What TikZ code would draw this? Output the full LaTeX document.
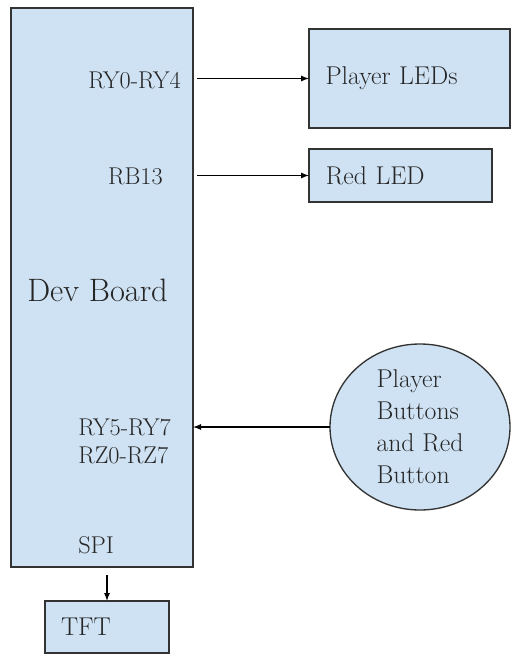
\documentclass[tikz,border=0pt]{standalone}
\usepackage{fontspec}
\usetikzlibrary{calc,shapes.geometric,arrows.meta}
\definecolor{boxfill}{HTML}{CFE2F3}
\definecolor{boxline}{HTML}{333333}
\definecolor{textgray}{HTML}{262626}

\begin{document}
\begin{tikzpicture}[
    x=0.75pt, y=-0.75pt,
    text=textgray,
    box/.style={draw=boxline, fill=boxfill, line width=1pt, outer sep=0pt,
        inner xsep=12pt, align=left, font=\fontsize{19.3}{24}\selectfont},
    pin/.style={font=\fontsize{18.2}{21}\selectfont, anchor=east, inner sep=0pt},
    link/.style={draw=black, line width=0.8pt, -{Latex[length=6pt,width=4.5pt]}}
]
    \useasboundingbox (0,0) rectangle (530,665);

    % --- Dev Board ---
    \node[box, minimum width=136.5pt, minimum height=419.25pt] (dev) at (102,287.5) {};
    \node[font=\fontsize{24.3}{28}\selectfont, anchor=west, inner sep=0pt] (devname) at (27,290) {Dev Board};

    % --- Pin Labels ---
    \node[pin] (ry04) at (181,80) {RY0-RY4};
    \node[pin] (rb13) at (163,176) {RB13};
    \node[pin, anchor=west, align=left] (ryrz) at (78,441) {RY5-RY7\\RZ0-RZ7};
    \node[pin, anchor=west] (spi) at (78,545) {SPI};

    % --- Peripherals ---
    \node[box, minimum width=150.75pt, minimum height=74.25pt, text width=126pt] (leds) at (409.5,78.5) {Player LEDs};
    \node[box, minimum width=137.25pt, minimum height=39.75pt, text width=112pt] (redled) at (400.5,175.5) {Red LED};
    \node[box, ellipse, inner sep=0pt, minimum width=135pt, minimum height=124.5pt] (btns) at (420,427) {Player\\Buttons\\and Red\\Button};
    \node[box, minimum width=93pt, minimum height=39pt, text width=69pt] (tft) at (107,627) {TFT};

    % --- Connections ---
    \coordinate (ry04out) at ($(dev.east |- leds.west)+(4,0)$);
    \coordinate (rb13out) at ($(dev.east |- redled.west)+(4,0)$);
    \coordinate (spiout) at ($(dev.south -| tft.north)+(0,8)$);
    \draw[link] (ry04out) -- (leds.west);
    \draw[link] (rb13out) -- (redled.west);
    \draw[link] (btns.west) -- (dev.east |- btns.west);
    \draw[link] (spiout) -- (tft.north);

\end{tikzpicture}
\end{document}
